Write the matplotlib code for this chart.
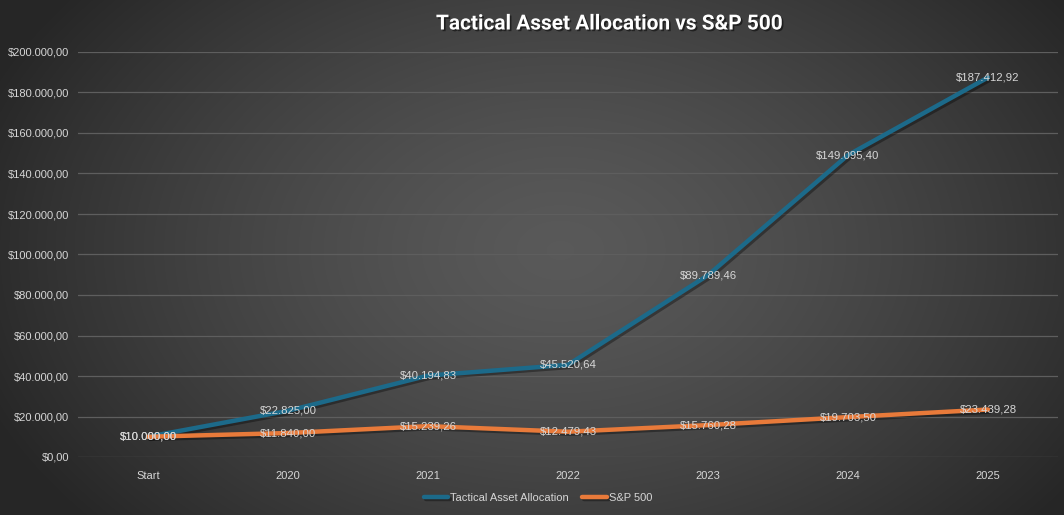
import matplotlib
matplotlib.use('Agg')
import matplotlib.pyplot as plt
import matplotlib.patheffects as pe
import numpy as np

plt.rcParams['font.family'] = ['Liberation Sans', 'DejaVu Sans']

categories = ['Start', '2020', '2021', '2022', '2023', '2024', '2025']
taa_values = [10000.00, 22825.00, 40194.83, 45520.64, 89789.46, 149095.40, 187412.92]
spx_values = [10000.00, 11840.00, 15239.26, 12479.43, 15760.28, 19703.50, 23439.28]
y_ticks = [0, 20000, 40000, 60000, 80000, 100000, 120000, 140000, 160000, 180000, 200000]

blue = '#1c6a8a'
orange = '#e87a3a'
text_color = '#d6d6d6'


def money(v):
    s = f'{v:,.2f}'
    s = s.replace(',', '#').replace('.', ',').replace('#', '.')
    return '$' + s


fig = plt.figure(figsize=(10.64, 5.15), dpi=100)

# radial gradient background
bg = fig.add_axes([0, 0, 1, 1], zorder=0)
yy, xx = np.mgrid[0:515, 0:1064]
r = np.sqrt(((xx - 560) / 620) ** 2 + ((yy - 250) / 420) ** 2)
r = np.clip(r, 0, 1)
shade = 0.35 - 0.20 * r ** 1.4
img = np.dstack([shade, shade, shade])
bg.imshow(img, aspect='auto', extent=[0, 1, 0, 1])
bg.axis('off')

ax = fig.add_axes([78 / 1064, (515 - 457) / 515, (1058 - 78) / 1064, (457 - 52) / 515], zorder=1)
ax.set_facecolor('none')
x = np.arange(len(categories))

shadow = [pe.SimpleLineShadow(offset=(1.5, -1.5), shadow_color='black', alpha=0.35), pe.Normal()]
ax.plot(x, taa_values, color=blue, lw=3.2, solid_capstyle='round', label='Tactical Asset Allocation',
        path_effects=shadow, zorder=3)
ax.plot(x, spx_values, color=orange, lw=3.2, solid_capstyle='round', label='S&P 500',
        path_effects=shadow, zorder=3)

for xi, v in zip(x, taa_values):
    ax.text(xi, v, money(v), color=text_color, fontsize=8.2, ha='center', va='center', zorder=4)
for xi, v in zip(x, spx_values):
    ax.text(xi, v, money(v), color=text_color, fontsize=8.2, ha='center', va='center', zorder=4)

ax.set_xlim(-0.5, len(categories) - 0.5)
ax.set_ylim(0, 200000)
ax.set_yticks(y_ticks)
ax.set_yticklabels([money(v) for v in y_ticks])
ax.set_xticks(x)
ax.set_xticklabels(categories)
ax.tick_params(axis='both', length=0, colors=text_color, labelsize=8)
ax.tick_params(axis='y', pad=6.5)
ax.tick_params(axis='x', pad=10)
ax.grid(axis='y', color='#5e5e5e', lw=0.9)
ax.set_axisbelow(True)
for s in ax.spines.values():
    s.set_visible(False)

leg = fig.legend(loc='center', bbox_to_anchor=(538 / 1064, 1 - 498 / 515), ncol=2, frameon=False,
                 fontsize=8, labelcolor=text_color, handlelength=2.2, handletextpad=0.2, columnspacing=1.2)

fig.text(610 / 1064, 1 - 24 / 515, 'Tactical Asset Allocation vs S&P 500', color='white', fontsize=15,
         fontweight='bold', family=['Roboto', 'DejaVu Sans'], ha='center', va='center',
         path_effects=[pe.withSimplePatchShadow(offset=(1.2, -1.2), shadow_rgbFace='black', alpha=0.5)])

fig.savefig('out.png', dpi=100)
